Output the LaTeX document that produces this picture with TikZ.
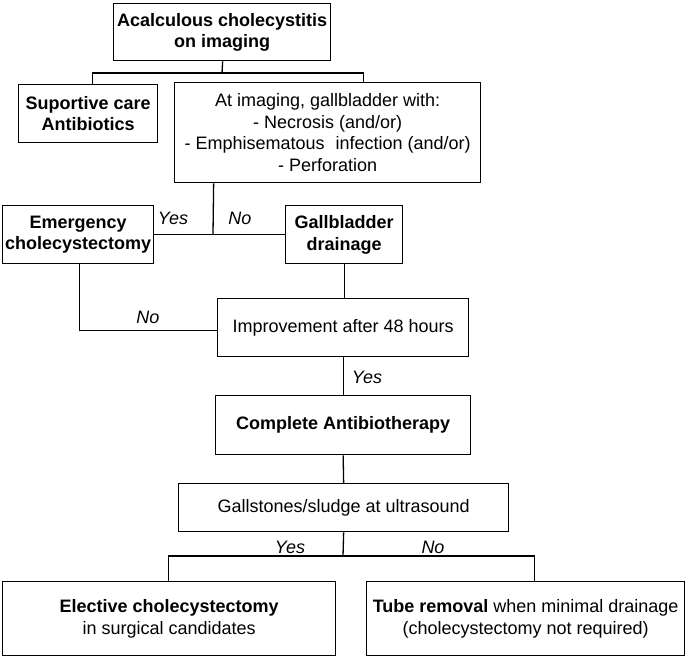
\documentclass[tikz,border=0pt]{standalone}
\usepackage{fontspec}
\setmainfont{Liberation Sans}
\begin{document}
\begin{tikzpicture}[x=1pt,y=1pt,
  box/.style={draw, line width=1.3pt, anchor=north west, inner sep=0pt, align=center,
    font=\fontsize{18}{21.5}\selectfont},
  lab/.style={font=\fontsize{18}{21.5}\selectfont\itshape, inner sep=0pt},
  conn/.style={line width=1.3pt}]
\useasboundingbox (0,0) rectangle (685,-657);
\node[box, minimum width=217pt, minimum height=57pt] (top) at (113,-3) {\bfseries Acalculous cholecystitis\\\bfseries on imaging};
\node[box, minimum width=139pt, minimum height=58pt] (sup) at (18,-84) {\bfseries Suportive care\\\bfseries Antibiotics};
\node[box, minimum width=306pt, minimum height=100pt] (img) at (174,-82) {At imaging, gallbladder with:\\- Necrosis (and/or)\\- Emphisematous\hspace{0.6em}infection (and/or)\\- Perforation};
\node[box, minimum width=151pt, minimum height=58pt] (emg) at (2,-205) {\bfseries Emergency\\\bfseries cholecystectomy};
\node[box, minimum width=117pt, minimum height=58pt] (gbd) at (285,-205) {\bfseries Gallbladder\\\bfseries drainage};
\node[box, minimum width=251pt, minimum height=58pt] (imp) at (217,-298) {Improvement after 48 hours};
\node[box, minimum width=255pt, minimum height=59pt] (cab) at (215,-395) {\bfseries Complete Antibiotherapy};
\node[box, minimum width=330pt, minimum height=48pt] (gst) at (178,-483) {Gallstones/sludge at ultrasound};
\node[box, minimum width=333pt, minimum height=74pt] (ele) at (2,-581) {\textbf{Elective cholecystectomy}\\in surgical candidates};
\node[box, minimum width=318pt, minimum height=74pt] (tub) at (366,-581) {\textbf{Tube removal} when minimal drainage\\(cholecystectomy not required)};

\coordinate (j1) at (222,-73);
\draw[conn] ([xshift=0.5pt]top.south) -- (j1);
\draw[conn] ([xshift=4.5pt]sup.north) |- (j1) -| ([xshift=36pt]img.north);
\coordinate (j2) at (213,-234);
\draw[conn] ([xshift=-114pt]img.south) -- (j2);
\draw[conn] (emg.east) -- (gbd.west);
\draw[conn] ([xshift=1.5pt]emg.south) |- ([yshift=-3pt]imp.west);
\draw[conn] (gbd.south) -- (gbd.south |- imp.north);
\draw[conn] (imp.south) -- (cab.north);
\draw[conn] (cab.south) -- (gst.north);
\coordinate (j3) at (343,-556);
\draw[conn] (gst.south) -- (j3);
\draw[conn] ([xshift=-0.5pt]ele.north) |- (j3) -| ([xshift=9pt]tub.north);

\node[lab] (l1) at (173,-218) {Yes};
\node[lab] (l2) at (240,-218) {No};
\node[lab] (l3) at (148,-317) {No};
\node[lab] (l4) at (367,-377) {Yes};
\node[lab] (l5) at (290,-547) {Yes};
\node[lab] (l6) at (433,-547) {No};
\end{tikzpicture}
\end{document}
